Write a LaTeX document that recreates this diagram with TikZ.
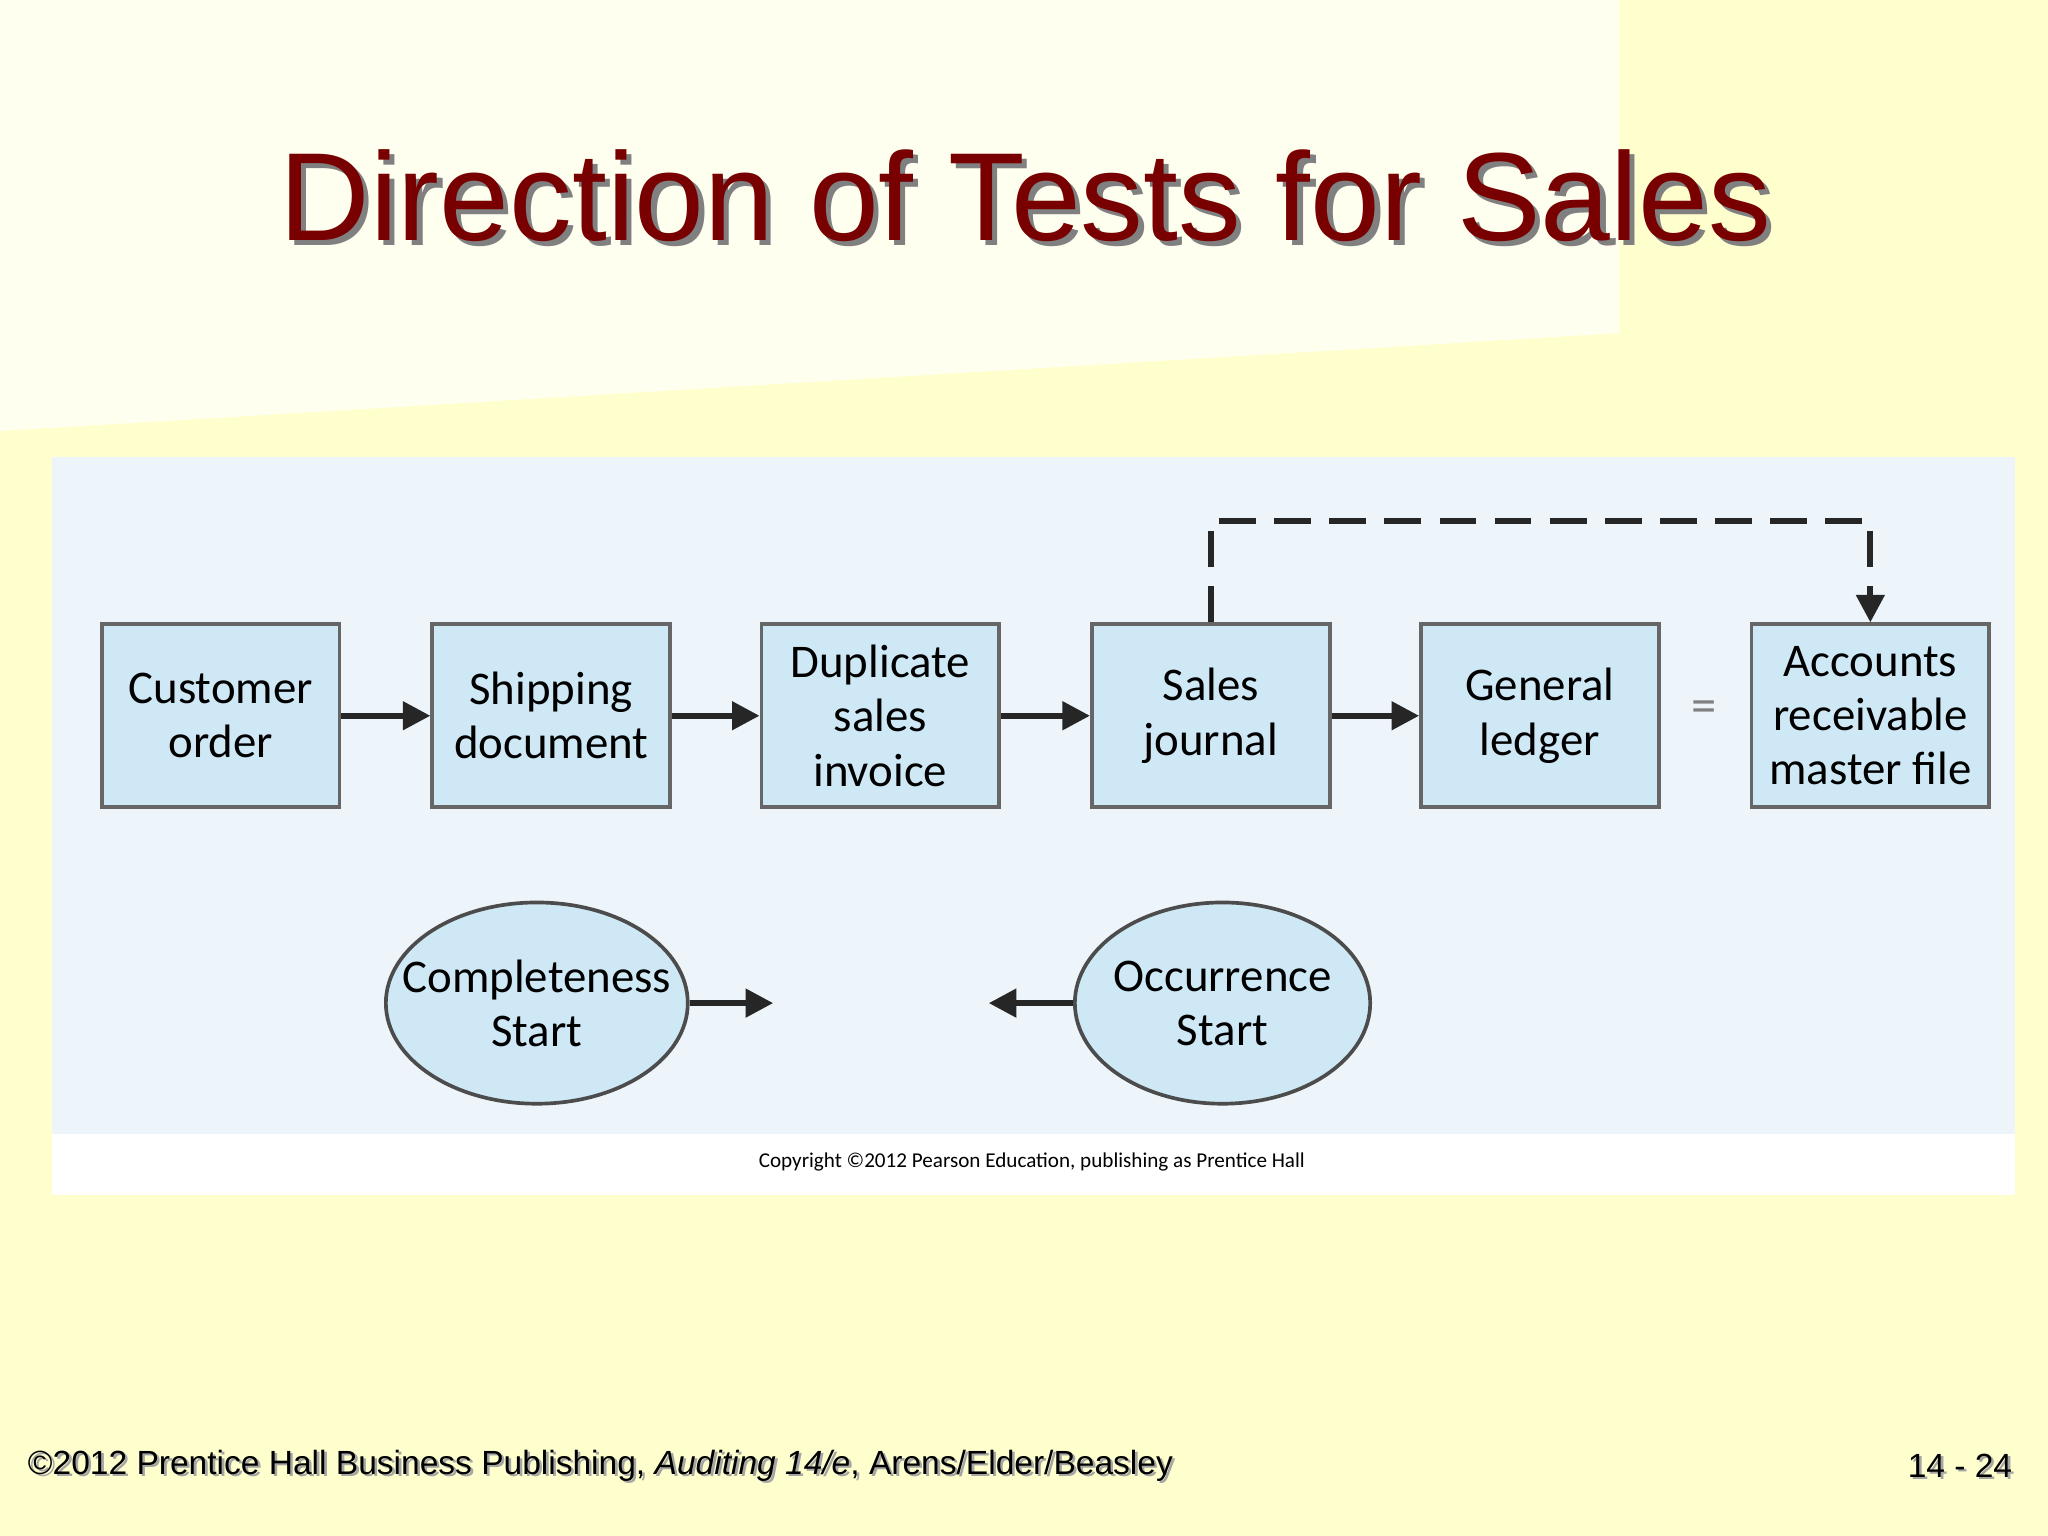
\documentclass[tikz,border=0pt]{standalone}
\usepackage{fontspec}
\setmainfont{Carlito}
\newfontfamily\titlef{Liberation Sans}
\usetikzlibrary{shapes.geometric,arrows.meta}
\definecolor{bgy}{RGB}{255,255,206}
\definecolor{panel}{RGB}{238,245,250}
\definecolor{boxb}{RGB}{206,232,245}
\definecolor{titler}{RGB}{120,0,0}
\begin{document}
\begin{tikzpicture}[x=0.01cm,y=-0.01cm,
  doc/.style={draw=black!60,line width=0.8pt,fill=boxb,minimum width=1.82cm,minimum height=1.4cm,align=center,font=\fontsize{10.2}{11.8}\selectfont,inner sep=0pt},
  ell/.style={ellipse,draw=black!70,line width=0.8pt,fill=boxb,minimum width=2.26cm,minimum height=1.54cm,align=center,font=\fontsize{10.2}{11.8}\selectfont,inner xsep=-6pt,inner ysep=0pt},
  arr/.style={-{Triangle[length=6pt,width=6pt]},line width=1.3pt,black!85}]
\fill[bgy] (0,0) rectangle (1568,1176);
\fill[white,opacity=0.7] (0,0) -- (1240,0) -- (1240,255) -- (0,330) -- cycle;
\fill[panel] (40,350) rectangle (1543,868);
\fill[white] (40,868) rectangle (1543,915);
\node[font=\titlef\fontsize{27.3}{30}\selectfont,text=black!50] at (789,154) {Direction of Tests for Sales};
\node[font=\titlef\fontsize{27.3}{30}\selectfont,text=titler] (title) at (785,150) {Direction of Tests for Sales};
\node[doc] (a) at (169,548) {Customer\\order};
\node[doc] (b) at (422,548) {Shipping\\document};
\node[doc] (c) at (674,548) {Duplicate\\sales\\invoice};
\node[doc] (d) at (927,548) {Sales\\journal};
\node[doc] (e) at (1179,548) {General\\ledger};
\node[doc] (f) at (1432,548) {Accounts\\receivable\\master file};
\node[font=\fontsize{11}{12}\selectfont,text=black!50] (eq) at (1305,545) {=};
\draw[arr] (a) -- (b);
\draw[arr] (b) -- (c);
\draw[arr] (c) -- (d);
\draw[arr] (d) -- (e);
\draw[arr,dash pattern=on 8pt off 4pt] (d.north) -- ++(0,-78) -| (f.north);
\node[ell] (g) at (411,768) {Completeness\\Start};
\node[ell] (h) at (936,768) {Occurrence\\Start};
\coordinate (gt) at (592,768);
\coordinate (ht) at (757,768);
\draw[arr] (g) -- (gt);
\draw[arr] (h) -- (ht);
\node[font=\fontsize{4.6}{5.5}\selectfont] (cp) at (790,890) {Copyright \textcopyright2012 Pearson Education, publishing as Prentice Hall};
\node[anchor=west,font=\titlef\fontsize{7.3}{8}\selectfont,text=black!35] at (11,1124) {\textcopyright2012 Prentice Hall Business Publishing, \textit{Auditing 14/e}, Arens/Elder/Beasley};
\node[anchor=west,font=\titlef\fontsize{7.3}{8}\selectfont] (ft) at (9,1122) {\textcopyright2012 Prentice Hall Business Publishing, \textit{Auditing 14/e}, Arens/Elder/Beasley};
\node[anchor=east,font=\titlef\fontsize{7.3}{8}\selectfont,text=black!35] at (1555,1124) {14 - 24};
\node[anchor=east,font=\titlef\fontsize{7.3}{8}\selectfont] (pg) at (1553,1122) {14 - 24};
\end{tikzpicture}
\end{document}
